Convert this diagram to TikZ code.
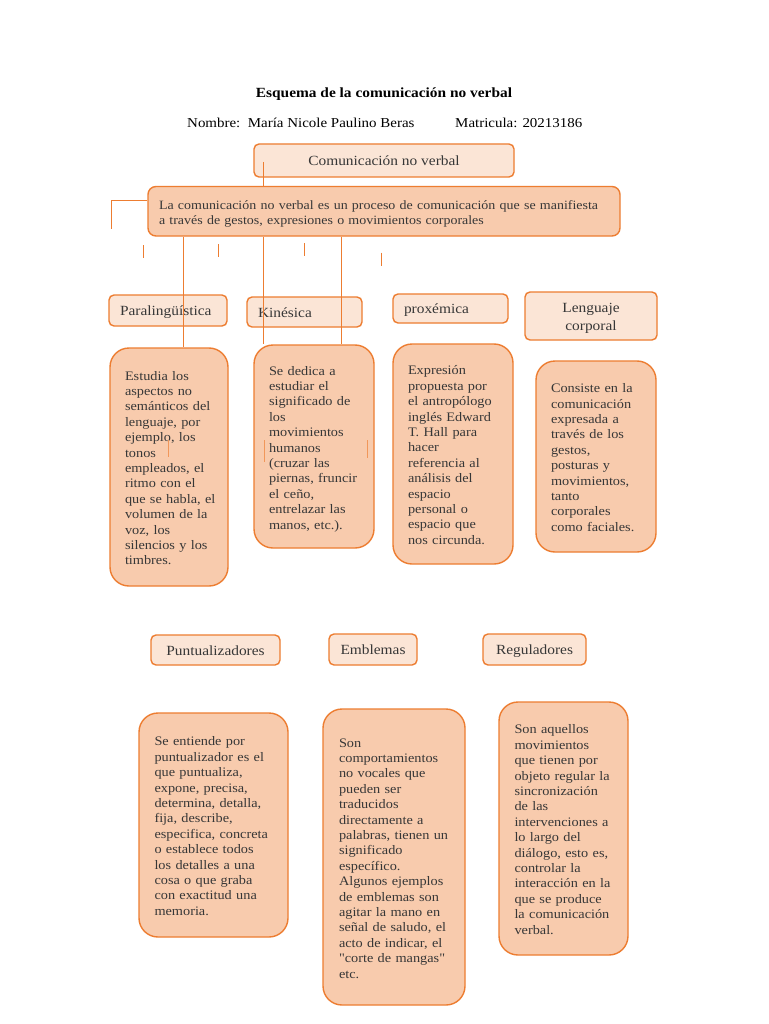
\documentclass[tikz,border=0pt]{standalone}
\usepackage{fontspec}
\setmainfont{Liberation Serif}[FakeStretch=1.1, Ligatures=TeXOff]
\definecolor{borde}{RGB}{237,125,49}
\definecolor{claro}{RGB}{251,229,214}
\definecolor{oscuro}{RGB}{248,203,173}
\definecolor{texto}{RGB}{55,55,55}
\newcommand{\renglones}[1]{\raisebox{-2.5pt}[\height][\depth]{\begin{tabular}{@{}l@{}}#1\end{tabular}}}

\begin{document}
\begin{tikzpicture}[x=1pt, y=-1pt,
    cabeza/.style={draw=borde, fill=claro, line width=1.4pt, rounded corners=5pt, text=texto, inner sep=0pt, text height=11pt, text depth=0.5pt, font=\fontsize{14}{16}\selectfont},
    cuadro/.style={draw=borde, fill=oscuro, line width=1.4pt, rounded corners=19pt, text=texto, inner sep=0pt, align=left, font=\fontsize{13}{15.4}\selectfont},
    linea/.style={draw=borde, line width=0.9pt},
    marca/.style={draw=borde!80, line width=0.7pt}]
        \useasboundingbox[fill=white] (0,0) rectangle (768,1024);
        % titulo y datos
        \node[font=\bfseries\fontsize{14}{16}\selectfont] (titulo) at (384,94) {Esquema de la comunicación no verbal};
        \node[font=\fontsize{13.6}{16}\selectfont, anchor=west, inner sep=0pt] (nombre) at (187,123) {Nombre:\ \ María Nicole Paulino Beras};
        \node[font=\fontsize{13.6}{16}\selectfont, anchor=west, inner sep=0pt] (matricula) at (455,123) {Matricula: 20213186};
        % cajas principales
        \node[cabeza, minimum width=260pt, minimum height=33pt] (tema) at (384,160.5) {Comunicación no verbal};
        \node[cuadro, rounded corners=8pt, minimum width=472pt, minimum height=49.5pt, text width=450pt, font=\fontsize{12.7}{15.2}\selectfont] (defi) at (384,211.25) {\renglones{La comunicación no verbal es un proceso de comunicación que se manifiesta\\a través de gestos, expresiones o movimientos corporales}};
        % primera fila
        \node[cabeza, minimum width=118pt, minimum height=31pt, text width=96pt, align=left] (para) at (168,310.5) {\mbox{Paralingüística}};
        \node[cabeza, minimum width=115pt, minimum height=30pt, text width=93pt, align=left] (kine) at (304.5,312) {\mbox{Kinésica}};
        \node[cabeza, minimum width=115pt, minimum height=29pt, text width=93pt, align=left] (prox) at (450.5,308.5) {\mbox{proxémica}};
        \node[cabeza, minimum width=132pt, minimum height=48pt, text height=, text depth=, font=\fontsize{14}{18}\selectfont] (leng) at (591,316) {\raisebox{-2pt}[\height][\depth]{\begin{tabular}{@{}c@{}}Lenguaje\\corporal\end{tabular}}};
        \node[cuadro, minimum width=118pt, minimum height=238pt, text width=88pt] (paradesc) at (169,467) {\renglones{Estudia los\\aspectos no\\semánticos del\\lenguaje, por\\ejemplo, los\\tonos\\empleados, el\\ritmo con el\\que se habla, el\\volumen de la\\voz, los\\silencios y los\\timbres.}};
        \node[cuadro, minimum width=120pt, minimum height=203pt, text width=90pt] (kinedesc) at (314,446.5) {\renglones{Se dedica a\\estudiar el\\significado de\\los\\movimientos\\humanos\\(cruzar las\\piernas, fruncir\\el ceño,\\entrelazar las\\manos, etc.).}};
        \node[cuadro, minimum width=120pt, minimum height=220pt, text width=90pt] (proxdesc) at (453,454) {\renglones{Expresión\\propuesta por\\el antropólogo\\inglés Edward\\T. Hall para\\hacer\\referencia al\\análisis del\\espacio\\personal o\\espacio que\\nos circunda.}};
        \node[cuadro, minimum width=120pt, minimum height=191pt, text width=90pt] (lengdesc) at (596,456.5) {\renglones{Consiste en la\\comunicación\\expresada a\\través de los\\gestos,\\posturas y\\movimientos,\\tanto\\corporales\\como faciales.}};
        % segunda fila
        \node[cabeza, minimum width=129pt, minimum height=30pt] (punt) at (215.5,650) {Puntualizadores};
        \node[cabeza, minimum width=88pt, minimum height=31pt] (embl) at (373,649.5) {Emblemas};
        \node[cabeza, minimum width=103pt, minimum height=31pt] (regu) at (534.5,649.5) {Reguladores};
        \node[cuadro, minimum width=149pt, minimum height=224pt, text width=118pt] (puntdesc) at (213.5,825) {\renglones{Se entiende por\\puntualizador es el\\que puntualiza,\\expone, precisa,\\determina, detalla,\\fija, describe,\\especifica, concreta\\o establece todos\\los detalles a una\\cosa o que graba\\con exactitud una\\memoria.}};
        \node[cuadro, minimum width=142pt, minimum height=296pt, text width=110pt] (embldesc) at (394,857) {\renglones{Son\\comportamientos\\no vocales que\\pueden ser\\traducidos\\directamente a\\palabras, tienen un\\significado\\específico.\\Algunos ejemplos\\de emblemas son\\agitar la mano en\\señal de saludo, el\\acto de indicar, el\\"corte de mangas"\\etc.}};
        \node[cuadro, minimum width=129pt, minimum height=253pt, text width=98pt] (regudesc) at (563.5,828.5) {\renglones{Son aquellos\\movimientos\\que tienen por\\objeto regular la\\sincronización\\de las\\intervenciones a\\lo largo del\\diálogo, esto es,\\controlar la\\interacción en la\\que se produce\\la comunicación\\verbal.}};
        % lineas
        \coordinate (arranque) at (263.3,162);
        \coordinate (ramaA) at (183.3,0);
        \coordinate (ramaC) at (341.7,0);
        \coordinate (esquina) at (111,200);
        \draw[linea] (arranque) -- (arranque |- defi.north);
        \draw[linea] (arranque |- defi.south) -- (arranque |- kinedesc.north);
        \draw[linea] (ramaA |- defi.south) -- (ramaA |- paradesc.north);
        \draw[linea] (ramaC |- defi.south) -- (ramaC |- kinedesc.north);
        \draw[linea] (esquina -| defi.west) -- (esquina) -- ++(0,29);
        \foreach \x/\y in {143.3/245, 218.3/244, 304/243, 381.7/252.7}
            \draw[linea] (\x,\y) -- ++(0,13);
        \foreach \x/\y/\l in {168.3/440/17, 264/440/22, 367/440/18}
            \draw[marca] (\x,\y) -- ++(0,\l);
    \end{tikzpicture}
\end{document}
